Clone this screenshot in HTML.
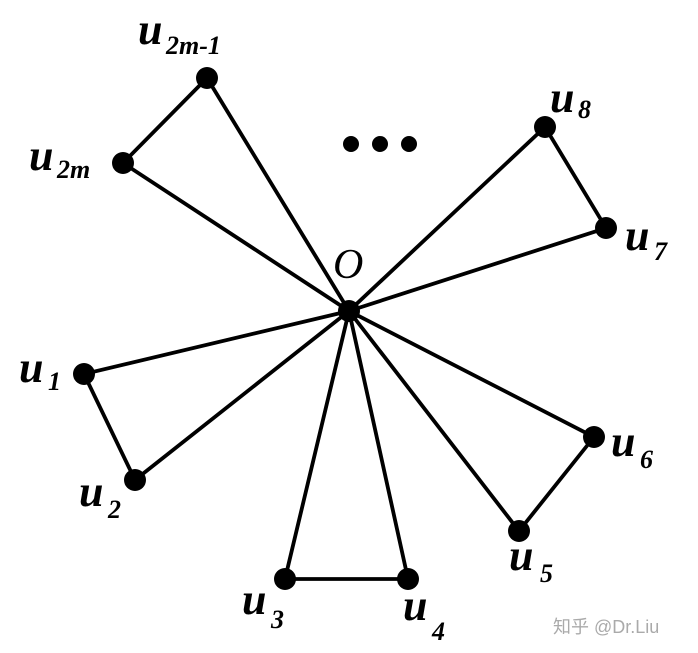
<!DOCTYPE html>
<html><head><meta charset="utf-8"><style>
html,body{margin:0;padding:0;background:#fff;}
svg{display:block;}
.u{font-family:"Liberation Serif",serif;font-style:italic;font-weight:bold;font-size:44px;}
.s{font-family:"Liberation Serif",serif;font-style:italic;font-weight:bold;font-size:26px;}
</style></head><body>
<svg width="698" height="653" viewBox="0 0 698 653" xmlns="http://www.w3.org/2000/svg">
<g stroke="#000" stroke-width="3.8" fill="none">
<path d="M207,78 L123,163 L349,311 Z"/>
<path d="M545,127 L606,228 L349,311 Z"/>
<path d="M84,374 L135,480 L349,311 Z"/>
<path d="M594,437 L519,531 L349,311 Z"/>
<path d="M285,579 L408,579 L349,311 Z"/>
</g>
<g fill="#000">
<circle cx="349" cy="311" r="11"/>
<circle cx="207" cy="78" r="11"/>
<circle cx="123" cy="163" r="11"/>
<circle cx="545" cy="127" r="11"/>
<circle cx="606" cy="228" r="11"/>
<circle cx="84" cy="374" r="11"/>
<circle cx="135" cy="480" r="11"/>
<circle cx="594" cy="437" r="11"/>
<circle cx="519" cy="531" r="11"/>
<circle cx="285" cy="579" r="11"/>
<circle cx="408" cy="579" r="11"/>
<circle cx="351" cy="144" r="8"/>
<circle cx="380" cy="144" r="8"/>
<circle cx="409" cy="144" r="8"/>
</g>
<text x="333" y="278" font-family="Liberation Serif,serif" font-style="italic" font-size="42">O</text>
<text class="u" x="138" y="44">u</text><text class="s" x="166" y="54">2m-1</text>
<text class="u" x="29" y="170">u</text><text class="s" x="57" y="178">2m</text>
<text class="u" x="550" y="112">u</text><text class="s" x="578" y="118">8</text>
<text class="u" x="625" y="250">u</text><text class="s" x="654" y="260">7</text>
<text class="u" x="19" y="382">u</text><text class="s" x="48" y="390">1</text>
<text class="u" x="79" y="506">u</text><text class="s" x="108" y="518">2</text>
<text class="u" x="611" y="456">u</text><text class="s" x="640" y="468">6</text>
<text class="u" x="509" y="570">u</text><text class="s" x="540" y="582">5</text>
<text class="u" x="242" y="614">u</text><text class="s" x="271" y="628">3</text>
<text class="u" x="403" y="620">u</text><text class="s" x="432" y="640">4</text>
<text x="553" y="633" fill="#aaa" font-family="Liberation Sans,Noto Sans CJK SC,sans-serif" font-size="18">知乎 @Dr.Liu</text>
</svg>
</body></html>
